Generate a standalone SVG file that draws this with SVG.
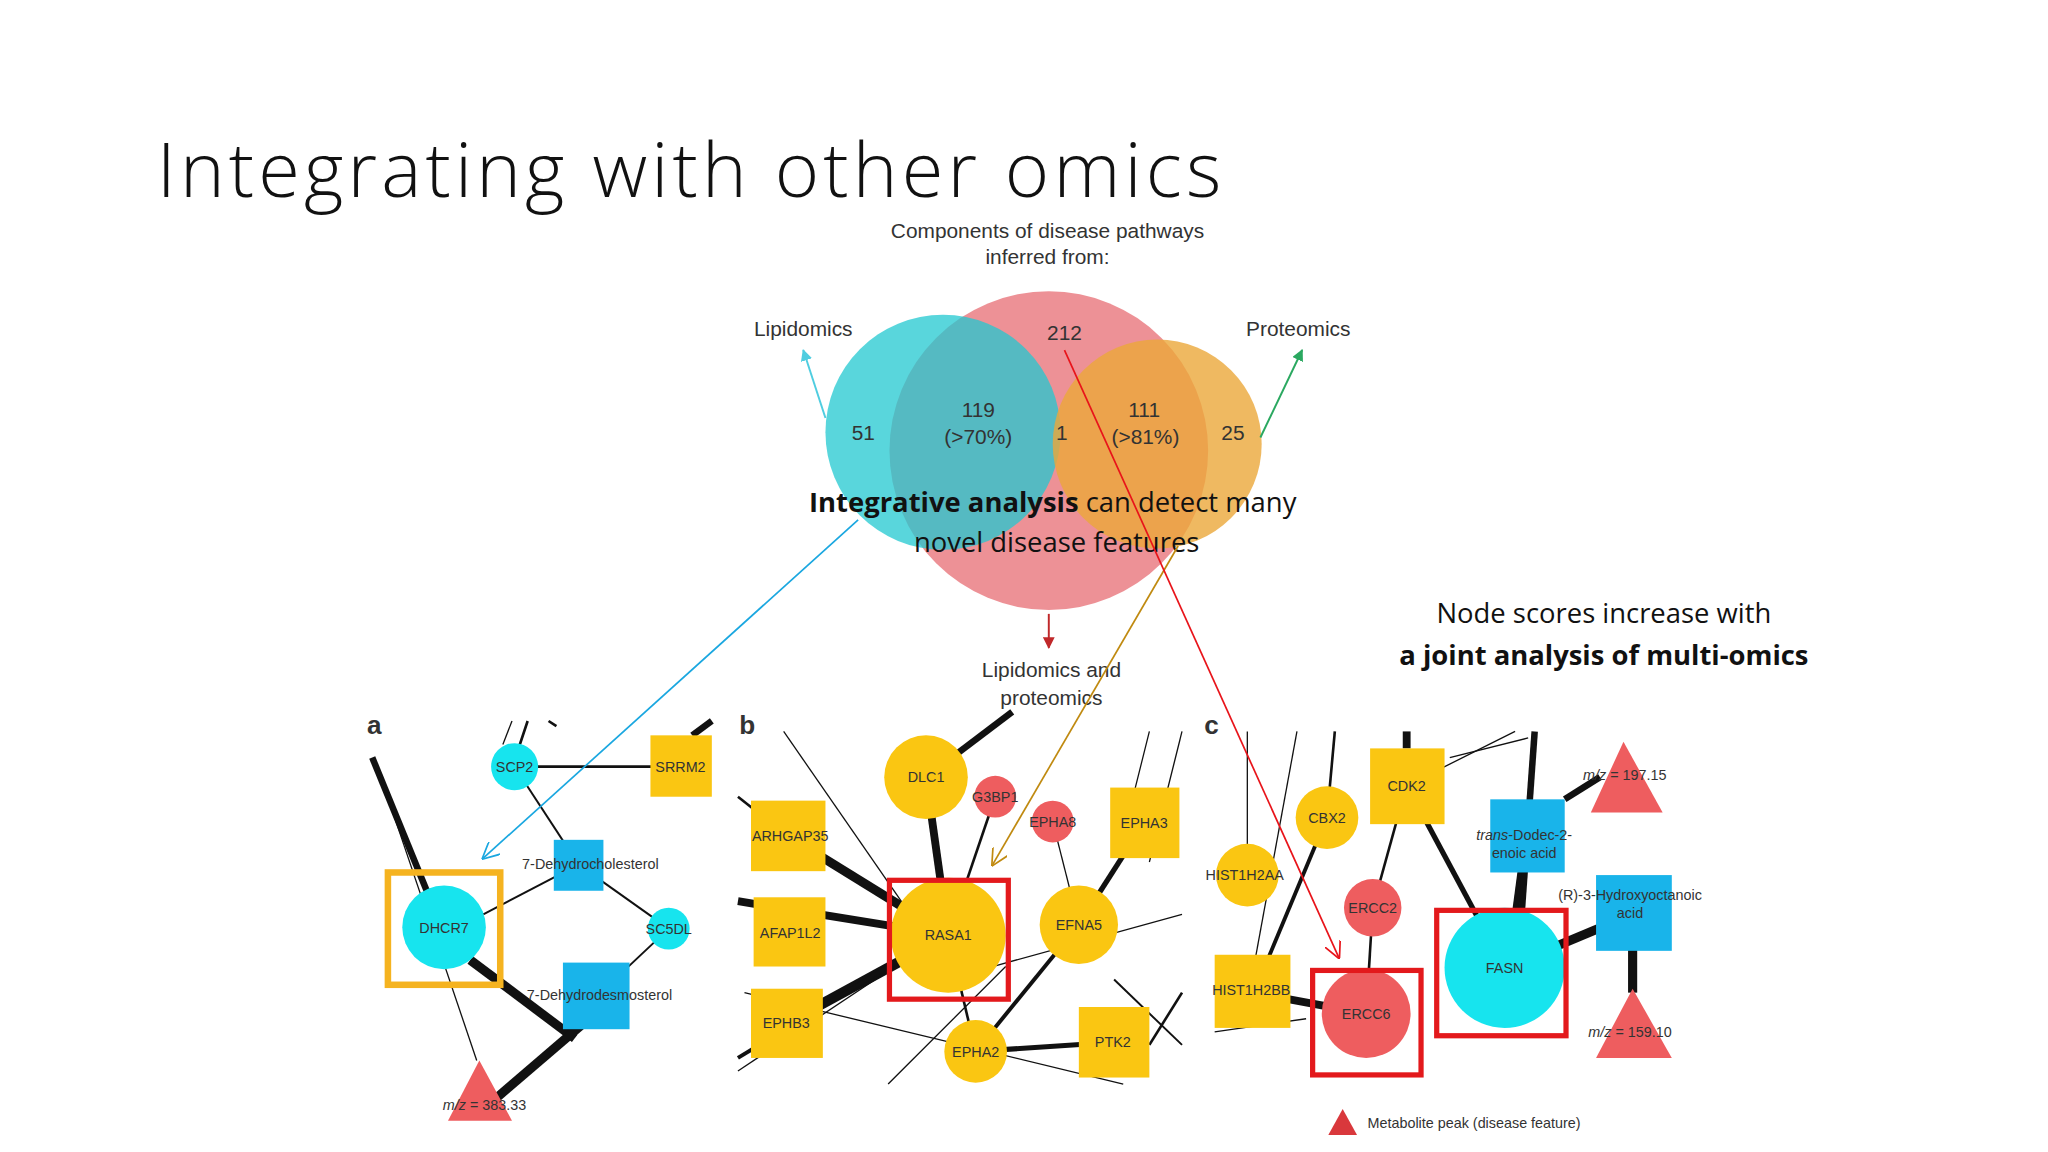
<svg xmlns="http://www.w3.org/2000/svg" width="2048" height="1152" viewBox="0 0 2048 1152">
<defs>
<style>
.t{font-family:"Liberation Sans",Arial,sans-serif;fill:#333}
.o{font-family:"Open Sans","Noto Sans",sans-serif;fill:#111}
.n{font-family:"Liberation Sans",Arial,sans-serif;font-size:11px;fill:#333;text-anchor:middle}
.e{stroke:#111;fill:none}
.cy{fill:#17e4ee}.bl{fill:#19b4ea}.or{fill:#fac612}.rd{fill:#ee5d5f}
</style>
<marker id="ab" viewBox="0 0 10 10" refX="9" refY="5" markerWidth="10" markerHeight="10" orient="auto"><path d="M0,0L10,5L0,10" fill="none" stroke="#1aa7e0"/></marker>
<marker id="ag" viewBox="0 0 10 10" refX="9" refY="5" markerWidth="10" markerHeight="10" orient="auto"><path d="M0,0L10,5L0,10" fill="none" stroke="#c08a10"/></marker>
<marker id="ar" viewBox="0 0 10 10" refX="9" refY="5" markerWidth="10" markerHeight="10" orient="auto"><path d="M0,0L10,5L0,10" fill="none" stroke="#e8141a"/></marker>
<marker id="sc" viewBox="0 0 10 10" refX="9" refY="5" markerWidth="6" markerHeight="6" orient="auto"><path d="M0,0L10,5L0,10z" fill="#4fcde0"/></marker>
<marker id="sg" viewBox="0 0 10 10" refX="9" refY="5" markerWidth="6" markerHeight="6" orient="auto"><path d="M0,0L10,5L0,10z" fill="#2aa860"/></marker>
<marker id="sr" viewBox="0 0 10 10" refX="9" refY="5" markerWidth="6" markerHeight="6" orient="auto"><path d="M0,0L10,5L0,10z" fill="#c0282a"/></marker>
</defs>
<rect width="2048" height="1152" fill="#fff"/>
<g transform="scale(1.3061)">
<text class="o" x="120" y="151" font-size="58" font-weight="300" textLength="815">Integrating with other omics</text>

<g id="venn">
<circle cx="803" cy="345" r="122" fill="#e8767c" opacity="0.8"/>
<circle cx="722" cy="331" r="90" fill="#22c8d0" opacity="0.75"/>
<circle cx="886" cy="340" r="80" fill="#eba83a" opacity="0.8"/>
<text class="t" x="802" y="182" font-size="16" text-anchor="middle">Components of disease pathways</text>
<text class="t" x="802" y="202" font-size="16" text-anchor="middle">inferred from:</text>
<text class="t" x="615" y="257" font-size="16" text-anchor="middle">Lipidomics</text>
<text class="t" x="994" y="257" font-size="16" text-anchor="middle">Proteomics</text>
<g class="t" font-size="16" text-anchor="middle">
<text x="815" y="260">212</text><text x="749" y="319">119</text><text x="749" y="340">(&gt;70%)</text>
<text x="661" y="337">51</text><text x="813" y="337">1</text><text x="876" y="319">111</text>
<text x="877" y="340">(&gt;81%)</text><text x="944" y="337">25</text>
<text x="805" y="518">Lipidomics and</text><text x="805" y="540">proteomics</text>
</g>
<line x1="632" y1="320" x2="615" y2="268" stroke="#4fcde0" stroke-width="1.5" marker-end="url(#sc)"/>
<line x1="965" y1="335" x2="997" y2="268" stroke="#2aa860" stroke-width="1.5" marker-end="url(#sg)"/>
<line x1="803" y1="470" x2="803" y2="496" stroke="#c0282a" stroke-width="1.5" marker-end="url(#sr)"/>
</g>

<g id="captions">
<text class="o" x="806" y="392" font-size="21" text-anchor="middle"><tspan font-weight="bold">Integrative analysis</tspan> can detect many</text>
<text class="o" x="809" y="423" font-size="21" text-anchor="middle">novel disease features</text>
<text class="o" x="1228" y="477" font-size="21" text-anchor="middle">Node scores increase with</text>
<text class="o" x="1228" y="509" font-size="21" text-anchor="middle" font-weight="bold">a joint analysis of multi-omics</text>
</g>

<g id="panel-a">
<text class="t" x="281" y="562" font-size="20" font-weight="bold" fill="#222">a</text>
<g class="e">
<line x1="285" y1="580" x2="330" y2="690" stroke-width="5"/>
<line x1="290" y1="590" x2="365" y2="812" stroke-width="1"/>
<line x1="360" y1="735" x2="440" y2="795" stroke-width="7"/>
<line x1="445" y1="785" x2="375" y2="845" stroke-width="7"/>
<line x1="394" y1="587" x2="520" y2="587" stroke-width="2"/>
<line x1="394" y1="587" x2="443" y2="662" stroke-width="1.5"/>
<line x1="443" y1="662" x2="512" y2="711" stroke-width="1.5"/>
<line x1="512" y1="711" x2="460" y2="760" stroke-width="1.5"/>
<line x1="370" y1="700" x2="443" y2="662" stroke-width="1.5"/>
<line x1="398" y1="570" x2="404" y2="552" stroke-width="2"/>
<line x1="385" y1="570" x2="392" y2="552" stroke-width="1"/>
<line x1="530" y1="563" x2="545" y2="552" stroke-width="5"/>
<line x1="420" y1="552" x2="426" y2="556" stroke-width="2"/>
</g>
<circle class="cy" cx="394" cy="587" r="18"/><text class="n" x="394" y="591">SCP2</text>
<rect class="or" x="498" y="563" width="47" height="47"/><text class="n" x="521" y="591">SRRM2</text>
<rect class="bl" x="424" y="643" width="38" height="39"/><text class="n" x="452" y="665">7-Dehydrocholesterol</text>
<rect x="297" y="668" width="86" height="86" fill="none" stroke="#f5b320" stroke-width="5"/>
<circle class="cy" cx="340" cy="710" r="32"/><text class="n" x="340" y="714" font-size="10">DHCR7</text>
<circle class="cy" cx="512" cy="711" r="16"/><text class="n" x="512" y="715" font-size="10">SC5DL</text>
<rect class="bl" x="431" y="737" width="51" height="51"/><text class="n" x="459" y="766">7-Dehydrodesmosterol</text>
<path class="rd" d="M367,812L343,858L392,858z"/>
<text class="n" x="371" y="850" font-size="12"><tspan font-style="italic">m/z</tspan> = 383.33</text>
</g>

<g id="panel-b">
<text class="t" x="566" y="562" font-size="20" font-weight="bold" fill="#222">b</text>
<g class="e">
<line x1="565" y1="690" x2="726" y2="716" stroke-width="6"/>
<line x1="603" y1="640" x2="726" y2="716" stroke-width="7"/>
<line x1="603" y1="783" x2="726" y2="716" stroke-width="8"/>
<line x1="709" y1="595" x2="726" y2="716" stroke-width="6"/>
<line x1="726" y1="716" x2="747" y2="805" stroke-width="2"/>
<line x1="747" y1="805" x2="853" y2="798" stroke-width="4"/>
<line x1="826" y1="708" x2="747" y2="805" stroke-width="3"/>
<line x1="876" y1="630" x2="826" y2="708" stroke-width="4"/>
<line x1="762" y1="610" x2="726" y2="716" stroke-width="2"/>
<line x1="806" y1="629" x2="826" y2="708" stroke-width="1"/>
<line x1="709" y1="595" x2="775" y2="545" stroke-width="5"/>
<line x1="565" y1="610" x2="603" y2="640" stroke-width="2"/>
<line x1="565" y1="810" x2="680" y2="740" stroke-width="3"/>
<line x1="565" y1="820" x2="760" y2="690" stroke-width="1"/>
<line x1="570" y1="760" x2="860" y2="830" stroke-width="1"/>
<line x1="680" y1="830" x2="770" y2="740" stroke-width="1"/>
<line x1="880" y1="560" x2="860" y2="640" stroke-width="1"/>
<line x1="905" y1="560" x2="880" y2="660" stroke-width="1"/>
<line x1="853" y1="750" x2="905" y2="800" stroke-width="1.5"/>
<line x1="760" y1="740" x2="905" y2="700" stroke-width="1"/>
<line x1="880" y1="800" x2="905" y2="760" stroke-width="2"/>
<line x1="600" y1="560" x2="690" y2="690" stroke-width="1"/>
</g>
<circle class="or" cx="709" cy="595" r="32"/><text class="n" x="709" y="599" font-size="12">DLC1</text>
<circle class="rd" cx="762" cy="610" r="16"/><text class="n" x="762" y="614">G3BP1</text>
<circle class="rd" cx="806" cy="629" r="16"/><text class="n" x="806" y="633">EPHA8</text>
<rect class="or" x="850" y="603" width="53" height="54"/><text class="n" x="876" y="634" font-size="12">EPHA3</text>
<rect class="or" x="575" y="613" width="57" height="54"/><text class="n" x="605" y="644">ARHGAP35</text>
<rect class="or" x="577" y="687" width="55" height="53"/><text class="n" x="605" y="718">AFAP1L2</text>
<circle class="or" cx="726" cy="716" r="44"/>
<rect x="681" y="674" width="91" height="91" fill="none" stroke="#e3191c" stroke-width="4"/>
<text class="n" x="726" y="720">RASA1</text>
<circle class="or" cx="826" cy="708" r="30"/><text class="n" x="826" y="712" font-size="12">EFNA5</text>
<rect class="or" x="575" y="757" width="55" height="53"/><text class="n" x="602" y="787" font-size="10">EPHB3</text>
<circle class="or" cx="747" cy="805" r="24"/><text class="n" x="747" y="809" font-size="12">EPHA2</text>
<rect class="or" x="826" y="771" width="54" height="54"/><text class="n" x="852" y="802" font-size="12">PTK2</text>
</g>

<g id="panel-c">
<text class="t" x="922" y="562" font-size="20" font-weight="bold" fill="#222">c</text>
<g class="e">
<line x1="955" y1="670" x2="955" y2="560" stroke-width="1"/>
<line x1="960" y1="740" x2="993" y2="560" stroke-width="1"/>
<line x1="1016" y1="626" x2="1022" y2="560" stroke-width="2"/>
<line x1="1016" y1="626" x2="960" y2="760" stroke-width="3"/>
<line x1="1077" y1="601" x2="1051" y2="695" stroke-width="2"/>
<line x1="1051" y1="695" x2="1046" y2="776" stroke-width="2"/>
<line x1="960" y1="760" x2="1046" y2="776" stroke-width="6"/>
<line x1="1077" y1="601" x2="1152" y2="741" stroke-width="4"/>
<line x1="1077" y1="573" x2="1077" y2="560" stroke-width="6"/>
<line x1="1168" y1="640" x2="1160" y2="700" stroke-width="5"/>
<line x1="1175" y1="560" x2="1165" y2="700" stroke-width="5"/>
<line x1="1152" y1="741" x2="1250" y2="700" stroke-width="7"/>
<line x1="1250" y1="700" x2="1250" y2="760" stroke-width="7"/>
<line x1="1198" y1="612" x2="1225" y2="595" stroke-width="5"/>
<line x1="1100" y1="590" x2="1160" y2="560" stroke-width="1"/>
<line x1="1110" y1="580" x2="1170" y2="565" stroke-width="1"/>
<line x1="930" y1="790" x2="1000" y2="780" stroke-width="1"/>
</g>
<rect class="or" x="1049" y="573" width="57" height="58"/><text class="n" x="1077" y="606" font-size="12">CDK2</text>
<circle class="or" cx="1016" cy="626" r="24"/><text class="n" x="1016" y="630" font-size="12">CBX2</text>
<circle class="or" cx="955" cy="670" r="24"/><text class="n" x="953" y="674">HIST1H2AA</text>
<circle class="rd" cx="1051" cy="695" r="22"/><text class="n" x="1051" y="699" font-size="12">ERCC2</text>
<rect class="bl" x="1141" y="612" width="57" height="56"/>
<text class="n" x="1167" y="643" font-style="italic">trans<tspan font-style="normal">-Dodec-2-</tspan></text><text class="n" x="1167" y="657">enoic acid</text>
<path class="rd" d="M1243,568L1218,622L1273,622z"/>
<text class="n" x="1244" y="597" font-size="12"><tspan font-style="italic">m/z</tspan> = 197.15</text>
<rect class="bl" x="1222" y="670" width="58" height="58"/>
<text class="n" x="1248" y="689">(R)-3-Hydroxyoctanoic</text><text class="n" x="1248" y="703">acid</text>
<circle class="cy" cx="1152" cy="741" r="46"/>
<rect x="1100" y="697" width="99" height="96" fill="none" stroke="#e3191c" stroke-width="4"/>
<text class="n" x="1152" y="745" font-size="12">FASN</text>
<rect class="or" x="930" y="731" width="58" height="56"/><text class="n" x="958" y="762">HIST1H2BB</text>
<circle class="rd" cx="1046" cy="776" r="34"/>
<rect x="1005" y="743" width="83" height="80" fill="none" stroke="#e3191c" stroke-width="4"/>
<text class="n" x="1046" y="780" font-size="12">ERCC6</text>
<path class="rd" d="M1250,757L1222,810L1280,810z"/>
<text class="n" x="1248" y="794" font-size="12"><tspan font-style="italic">m/z</tspan> = 159.10</text>
<path fill="#d9383c" d="M1028,849L1017,869L1039,869z"/>
<text class="n" x="1047" y="864" style="text-anchor:start">Metabolite peak (disease feature)</text>
</g>

<g id="connectors" fill="none">
<line x1="657" y1="398" x2="370" y2="657" stroke="#1aa7e0" stroke-width="1.3" marker-end="url(#ab)"/>
<line x1="902" y1="418" x2="760" y2="662" stroke="#c08a10" stroke-width="1.3" marker-end="url(#ag)"/>
<line x1="815" y1="268" x2="1025" y2="733" stroke="#e8141a" stroke-width="1.3" marker-end="url(#ar)"/>
</g>
</g>
</svg>
